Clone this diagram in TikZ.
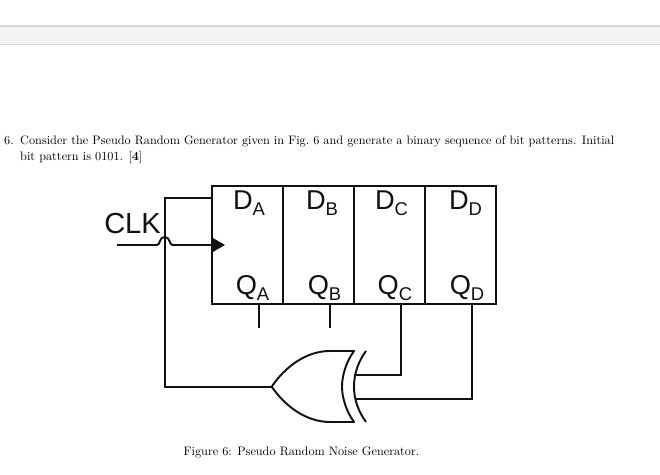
\documentclass[tikz,border=0pt]{standalone}
\usepackage{fontspec}
\newfontfamily\pinfont{Liberation Sans}
\usetikzlibrary{arrows.meta}
\usetikzlibrary{calc}

\definecolor{bandfill}{HTML}{F1F2F4}
\definecolor{bandline}{HTML}{D6D8DB}
\definecolor{wirecolor}{HTML}{111111}

\newcommand{\pinname}[2]{{\pinfont\fontsize{15.5}{18}\selectfont #1\raisebox{-0.4ex}{\fontsize{10.5}{12}\selectfont #2}}}

\tikzset{
  wire/.style={draw=wirecolor, line width=1.1pt},
  cell/.style={draw=wirecolor, line width=1.1pt, inner sep=0pt, minimum width=1.42cm, minimum height=2.36cm},
  pin/.style={inner sep=0pt, text=wirecolor},
  prose/.style={inner sep=0pt, anchor=base west, text=black, scale=0.697},
}

\begin{document}
\begin{tikzpicture}[x=0.02cm, y=-0.02cm]
    \useasboundingbox (0,0) rectangle (660,475);
    \fill[white] (0,0) rectangle (660,475);

    % browser band on top
    \fill[bandfill] (0,26) rectangle (660,44);
    \draw[bandline, line width=0.7pt] (0,26) -- (660,26);
    \draw[bandline, line width=0.4pt] (0,44) -- (660,44);

    % question text
    \node[prose] (qnum) at (4,145) {6.};
    \node[prose] (qone) at (20,145) {Consider the Pseudo Random Generator given in Fig.~6 and generate a binary sequence of bit patterns. Initial};
    \node[prose] (qtwo) at (20,161) {bit pattern is 0101. [\textbf{4}]};

    % register
    \node[cell] (cellA) at (247.5,245) {};
    \node[cell] (cellB) at (318.5,245) {};
    \node[cell] (cellC) at (389.5,245) {};
    \node[cell] (cellD) at (460.5,245) {};

    \node[pin] (dA) at (249,203.5) {\pinname{D}{A}};
    \node[pin] (dB) at (322,203.5) {\pinname{D}{B}};
    \node[pin] (dC) at (391.5,203.5) {\pinname{D}{C}};
    \node[pin] (dD) at (465.5,203.5) {\pinname{D}{D}};
    \node[pin] (qA) at (252.5,288) {\pinname{Q}{A}};
    \node[pin] (qB) at (324.5,288) {\pinname{Q}{B}};
    \node[pin] (qC) at (395,288) {\pinname{Q}{C}};
    \node[pin] (qD) at (467,288) {\pinname{Q}{D}};

    % clock
    \node[pin] (clk) at (132.5,224) {\pinfont\fontsize{16.5}{18}\selectfont CLK};
    \coordinate (clkin) at (117,245);
    \coordinate (clktip) at (225,245);
    \draw[wire, -{Triangle[length=0.26cm, width=0.29cm]}] (clkin) -- (157,245)
      .. controls (160.5,245) and (159,237) .. (164.7,237)
      .. controls (170.5,237) and (169,245) .. (172.5,245) -- (clktip);

    % free outputs
    \coordinate (stubA) at (259,328);
    \coordinate (stubB) at (330,328);
    \draw[wire] (cellA.south -| stubA) -- (stubA);
    \draw[wire] (cellB.south -| stubB) -- (stubB);

    % xor gate
    \coordinate (xorout) at (271.7,386.7);
    \coordinate (xortop) at (354,351);
    \coordinate (xorbot) at (354,422);
    \coordinate (xorback) at (342,386.7);
    \coordinate (xorC) at (354,375);
    \coordinate (xorD) at (354.5,398.7);
    \draw[wire, line join=round] (xorout) .. controls (285,367) and (306,351) .. (330,351) -- (xortop)
      .. controls (346,362) and (342,376) .. (xorback)
      .. controls (342,397) and (346,411) .. (xorbot) -- (330,422)
      .. controls (306,422) and (285,406) .. (xorout);
    \draw[wire] (366,351) .. controls (358,362) and (354,374) .. (354,386.7)
      .. controls (354,399) and (358,411) .. (366,422);

    % feedback
    \draw[wire] (cellC.south -| 401,0) |- (xorC);
    \draw[wire] (cellD.south -| 472,0) |- (xorD);
    \coordinate (feedin) at (212,197.7);
    \draw[wire] (feedin) -| (164.7,386.7) -- (xorout);

    \node[prose, anchor=base] (caption) at (301.5,456) {Figure 6: Pseudo Random Noise Generator.};
\end{tikzpicture}
\end{document}
